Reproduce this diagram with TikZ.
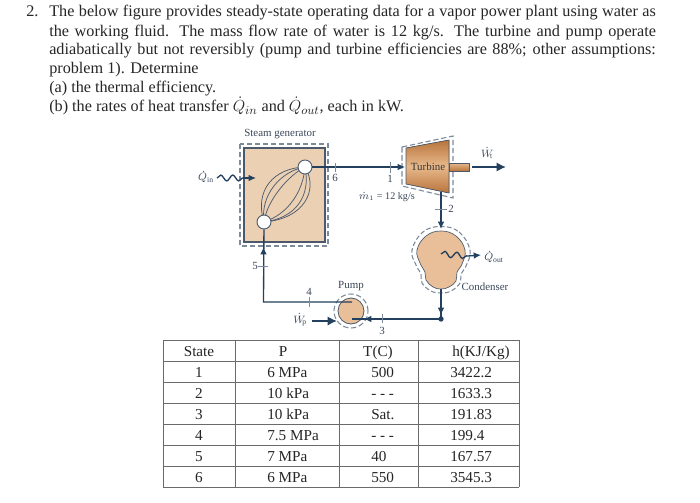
\documentclass[tikz,border=0pt]{standalone}
\usepackage{fontspec}
\setmainfont{Liberation Serif}
\usetikzlibrary{arrows.meta,decorations.pathmorphing}
\definecolor{navy}{HTML}{24405F}
\definecolor{dashc}{HTML}{7C8A9A}
\definecolor{boxc}{HTML}{4A5A6C}
\definecolor{sgfill}{HTML}{ECD0B4}
\definecolor{cfill}{HTML}{E8BF98}
\definecolor{tdark}{HTML}{B8743C}
\definecolor{tlight}{HTML}{E8B98C}
\definecolor{rulec}{HTML}{6A6A6A}
\definecolor{lab}{HTML}{3A4658}
\tikzset{
  x=0.75pt,y=-0.75pt,
  para/.style={anchor=base west,inner sep=0,font=\fontsize{12.15}{14}\selectfont,text=black!85},
  flow/.style={navy,line width=1pt},
  tip/.style={-{Latex[length=5.5pt,width=5pt]}},
  thick arrow/.style={navy,line width=2pt,-{Latex[length=7pt,width=7pt]}},
  dashbox/.style={dashc,line width=0.8pt,dash pattern=on 4pt off 2pt},
  tickm/.style={dashc,line width=0.5pt},
  lbl/.style={inner sep=0,font=\fontsize{8.2}{9.5}\selectfont,text=lab},
  tbl/.style={inner sep=0,anchor=base,font=\fontsize{11.4}{13}\selectfont,text=black!85},
  tbll/.style={tbl,anchor=base west},
  grid/.style={rulec,line width=0.75pt},
  header/.style={circle,fill=white,draw=boxc,line width=0.7pt,minimum size=10.5pt,inner sep=0},
  wave/.style={decorate,decoration={snake,segment length=9pt,amplitude=2.2pt}},
}
\newcommand{\jline}[1]{\makebox[455pt][s]{#1}}
\begin{document}
\begin{tikzpicture}
\useasboundingbox (0,0) rectangle (700,503);
\fill[white] (0,0) rectangle (700,503);
% problem text
\node[para] (n2) at (26,17) {2.};
\node[para] (l1) at (49,17) {\jline{The below figure provides steady-state operating data for a vapor power plant using water as}};
\node[para] (l2) at (49,36.5) {\jline{the working fluid. The mass flow rate of water is 12 kg/s. The turbine and pump operate}};
\node[para] (l3) at (49,55) {\jline{adiabatically but not reversibly (pump and turbine efficiencies are 88\%; other assumptions:}};
\node[para] (l4) at (49,73.5) {problem 1). Determine};
\node[para] (l5) at (49,92.5) {(a) the thermal efficiency.};
\node[para] (l6) at (49,112) {(b) the rates of heat transfer $\dot{Q}_{in}$ and $\dot{Q}_{out}$, each in kW.};

% steam generator
\node[lbl] (sglabel) at (280,134) {Steam generator};
\fill[sgfill] (244,148) rectangle (325,242);
\draw[boxc,line width=0.9pt] (244,148) rectangle (325,242);
\draw[dashbox] (240,144) rectangle (328,246);
\coordinate (b5) at (264,222);
\coordinate (b6) at (305,167);
\begin{scope}[boxc,line width=0.55pt]
\draw (b5) .. controls (254,190) and (274,168) .. (b6);
\draw (b5) .. controls (260,195) and (281,171) .. (b6);
\draw (b5) .. controls (267,200) and (289,175) .. (b6);
\draw (b5) .. controls (288,214) and (303,192) .. (b6);
\draw (b5) .. controls (296,218) and (311,196) .. (b6);
\draw (b5) .. controls (304,219) and (319,190) .. (b6);
\end{scope}
\node[header] (top) at (b6) {};
\node[header] (bot) at (b5) {};

% turbine
\coordinate (tin) at (405,167);
\coordinate (tout) at (441,192);
\fill[top color=tdark,bottom color=tdark,middle color=tlight] (406,148) -- (449,140) -- (449,193) -- (406,184) -- cycle;
\draw[boxc,line width=0.5pt] (406,148) -- (449,140) -- (449,193) -- (406,184) -- cycle;
\draw[dashbox] (402,147) -- (453,136) -- (453,198) -- (402,186) -- cycle;
\node[lbl,text=black!80] (turb) at (428,167) {Turbine};
\fill[top color=tlight,bottom color=tdark] (449,163) rectangle (469,171);
\draw[boxc,line width=0.5pt] (449,163) rectangle (469,171);
\coordinate (w1) at (472,167);
\coordinate (w2) at (506,167);
\draw[thick arrow] (w1) -- (w2);
\node[lbl] (wt) at (487,153) {$\dot{W}_{\!\mathrm{t}}$};

% condenser
\coordinate (ctop) at (441,229);
\coordinate (cbot) at (441,289);
\filldraw[fill=cfill,draw=boxc,line width=0.5pt] plot[smooth cycle,tension=0.7] coordinates {(441,231)(456,236)(465,250)(462,264)(457,272)(456,281)(449,287)(441,289)(433,287)(426,280)(425,272)(420,263)(417,250)(426,236)};
\draw[dashbox,dash pattern=on 3.5pt off 1.8pt] plot[smooth cycle,tension=0.7] coordinates {(441,226.5)(459,232)(470,250)(466,266)(461,274)(460,283)(451,291)(441,293)(431,291)(422,283)(421,274)(416,265)(412,250)(423,232)};
\node[lbl] (cond) at (485,287) {Condenser};

% pump
\node[circle,fill=cfill,draw=boxc,line width=0.6pt,minimum size=19.5pt,inner sep=0] (pump) at (351,311) {};
\node[circle,dashbox,draw,minimum size=25.5pt,inner sep=0] (pumpd) at (351,311) {};
\node[lbl] (pumpl) at (351,286) {Pump};
\coordinate (pin) at (352,319);
\coordinate (pout) at (352,302);
\coordinate (j) at (441,319);
\coordinate (c45) at (263.5,302);

% flow lines
\draw[flow,tip] (top) -- (tin);
\draw[flow,tip] (tout) -- (ctop);
\draw[flow] (cbot) -- (j);
\draw[flow,tip] (441,300) -- (441,315);
\draw[flow] (j) -- (pin);
\draw[flow,tip] (j) -- (364,319);
\fill[navy] (j) circle (2pt);
\draw[flow] (pout) -- (c45) -- (bot);
\draw[flow,tip] (c45) -- (263.5,247);

% work in, heat
\coordinate (wp1) at (312,321);
\coordinate (wp2) at (337,321);
\draw[thick arrow] (wp1) -- (wp2);
\node[lbl] (wpl) at (300,320) {$\dot{W}_{\!\mathrm{p}}$};
\coordinate (qi1) at (217,178);
\coordinate (qi2) at (243,178);
\coordinate (qi3) at (256,178);
\draw[navy,line width=1pt,wave] (qi1) -- (qi2);
\draw[navy,line width=1pt,tip] (qi2) -- (qi3);
\node[lbl] (qin) at (206,177) {$\dot{Q}_{\mathrm{in}}$};
\coordinate (qo1) at (441,254);
\coordinate (qo2) at (468,256);
\coordinate (qo3) at (481,255);
\draw[navy,line width=1pt,wave] (qo1) -- (qo2);
\draw[navy,line width=1pt,tip] (qo2) -- (qo3);
\node[lbl] (qout) at (494,257) {$\dot{Q}_{\mathrm{out}}$};

% state ticks and labels
\draw[tickm] (335,163) -- (335,172);
\node[lbl] (s6) at (335,178) {6};
\draw[tickm] (390,162) -- (390,173);
\node[lbl] (s1) at (390,179) {1};
\node[lbl,font=\fontsize{7.6}{9}\selectfont] (mdot) at (387,197) {$\dot{m}_1$ = 12 kg/s};
\draw[tickm] (435,209) -- (447,209);
\node[lbl] (s2) at (451,209) {2};
\draw[tickm] (382,314) -- (382,323);
\node[lbl] (s3) at (382,331) {3};
\draw[tickm] (309,297) -- (309,307);
\node[lbl] (s4) at (309,292) {4};
\draw[tickm] (258,266) -- (268,266);
\node[lbl] (s5) at (255,266) {5};

% table
\foreach \yy in {340,361,382,403,424,445,466,487} \draw[grid] (163,\yy) -- (519,\yy);
\foreach \xx in {163,235,339,418,519} \draw[grid] (\xx,340) -- (\xx,487);
\node[tbl] at (199,356) {State};
\node[tbl] at (283,356) {P};
\node[tbl] at (378,356) {T(C)};
\node[tbl] at (481,356) {h(KJ/Kg)};
\node[tbl] at (199,377) {1};
\node[tbl] at (199,398) {2};
\node[tbl] at (199,419) {3};
\node[tbl] at (199,440) {4};
\node[tbl] at (199,461) {5};
\node[tbl] at (199,482) {6};
\node[tbll] at (267,377) {6 MPa};
\node[tbll] at (267,398) {10 kPa};
\node[tbll] at (267,419) {10 kPa};
\node[tbll] at (267,440) {7.5 MPa};
\node[tbll] at (267,461) {7 MPa};
\node[tbll] at (267,482) {6 MPa};
\node[tbll] at (371,377) {500};
\node[tbll] at (371,398) {- - -};
\node[tbll] at (371,419) {Sat.};
\node[tbll] at (371,440) {- - -};
\node[tbll] at (371,461) {40};
\node[tbll] at (371,482) {550};
\node[tbll] at (450,377) {3422.2};
\node[tbll] at (450,398) {1633.3};
\node[tbll] at (450,419) {191.83};
\node[tbll] at (450,440) {199.4};
\node[tbll] at (450,461) {167.57};
\node[tbll] at (450,482) {3545.3};
\end{tikzpicture}
\end{document}
